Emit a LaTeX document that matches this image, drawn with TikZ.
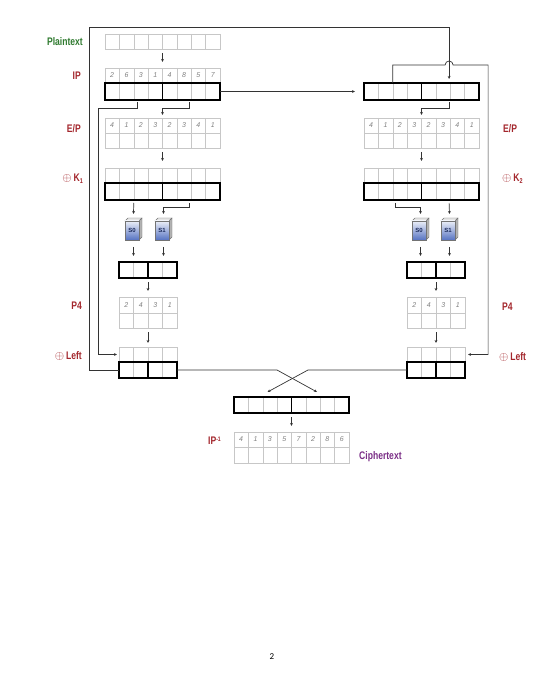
\documentclass[tikz,border=0pt]{standalone}
\usepackage{fontspec}
\setmainfont{Liberation Sans}
\newfontfamily\lblfont[FakeStretch=0.78]{Liberation Sans}
\newfontfamily\pgfont{Carlito}
\usetikzlibrary{arrows.meta,calc}
\definecolor{lblred}{HTML}{A3262C}
\definecolor{lblgreen}{HTML}{2F7A2F}
\definecolor{lblpurple}{HTML}{7A2D86}
\definecolor{sblue}{HTML}{5673C2}
\definecolor{snavy}{HTML}{1C2B5C}

\tikzset{
  cellline/.style={draw=black!22, line width=0.5pt},
  rowbox/.style={inner sep=0pt, outer sep=0pt, anchor=north west, draw=black!22, line width=0.5pt},
  boldbox/.style={inner sep=0pt, outer sep=0pt, anchor=north west, draw=black, line width=1.4pt},
  boldline/.style={draw=black, line width=1.4pt},
  numtxt/.style={font=\fontsize{7}{7}\selectfont\itshape, text=black!50, inner sep=0pt},
  conn/.style={draw=black!80, line width=0.7pt},
  arr/.style={conn, -{Stealth[length=3pt,width=2.8pt]}},
  lbl/.style={font=\lblfont\bfseries\fontsize{11}{12}\selectfont, text=lblred, inner sep=0pt},
  sboxfront/.style={inner sep=0pt, outer sep=0pt, anchor=north west, minimum width=14pt, minimum height=19pt,
    top color=sblue!12!white, bottom color=sblue, draw=black!55, line width=0.4pt,
    font=\bfseries\fontsize{6}{6}\selectfont, text=snavy},
  sboxtop/.style={fill=black!10, draw=black!55, line width=0.4pt},
  sboxside/.style={fill=black!30, draw=black!55, line width=0.4pt},
}

\newcommand\xorsym{{\fontsize{12}{12}\selectfont$\oplus$}}
\newcommand\cellrow[6]{%
  \node[rowbox, minimum width=#5pt, minimum height=#6pt] (#1) at (#2,#3) {};
  \pgfmathsetmacro\cwd{#5/#4}
  \foreach \ii in {2,...,#4} \draw[cellline] ({#2+(\ii-1)*\cwd},#3) -- ++(0,#6);
}
\newcommand\numrow[6]{%
  \pgfmathsetmacro\cwd{#4/#3}
  \foreach \lab [count=\ii] in {#6} \node[numtxt] at ({#1+(\ii-0.5)*\cwd},{#2+#5/2}) {\lab};
}
\newcommand\boldrow[6]{%
  \pgfmathsetmacro\cwd{#5/#4}
  \foreach \ii in {2,...,#4} \draw[cellline] ({#2+(\ii-1)*\cwd},#3) -- ++(0,#6);
  \node[boldbox, minimum width=#5pt, minimum height=#6pt] (#1) at (#2,#3) {};
  \draw[boldline] (#1.north) -- (#1.south);
}
\newcommand\sboxnode[4]{%
  \filldraw[sboxtop] (#2,#3) -- ++(3,-3) -- ++(14,0) -- ++(-3,3) -- cycle;
  \filldraw[sboxside] ({#2+14},#3) -- ++(3,-3) -- ++(0,19) -- ++(-3,3) -- cycle;
  \node[sboxfront] (#1) at (#2,#3) {#4};
}

\begin{document}
\begin{tikzpicture}[x=1pt,y=-1pt]
\useasboundingbox (0,0) rectangle (544,700);

% ---------------- left column (round 1) ----------------
\cellrow{pt}{105}{34}{8}{115}{15}
\cellrow{ipn}{105}{68}{8}{115}{15}
\numrow{105}{68}{8}{115}{15}{2,6,3,1,4,8,5,7}
\boldrow{ipL}{105}{83}{8}{115}{17}
\cellrow{epLn}{105}{118}{8}{115}{15}
\numrow{105}{118}{8}{115}{15}{4,1,2,3,2,3,4,1}
\cellrow{epLb}{105}{133}{8}{115}{15}
\cellrow{kL}{105}{168}{8}{115}{15}
\boldrow{xk1}{105}{183}{8}{115}{17}
\sboxnode{s0L}{125}{221}{S0}
\sboxnode{s1L}{155}{221}{S1}
\boldrow{b4L}{119}{262}{4}{58}{16}
\cellrow{p4Ln}{119}{297}{4}{58}{16}
\numrow{119}{297}{4}{58}{16}{2,4,3,1}
\cellrow{p4Lb}{119}{313}{4}{58}{15}
\cellrow{xlLn}{119}{347}{4}{58}{15}
\boldrow{xlL}{119}{362}{4}{58}{16}

% ---------------- right column (round 2) ----------------
\boldrow{ipR}{364}{83}{8}{115}{17}
\cellrow{epRn}{364}{118}{8}{115}{15}
\numrow{364}{118}{8}{115}{15}{4,1,2,3,2,3,4,1}
\cellrow{epRb}{364}{133}{8}{115}{15}
\cellrow{kR}{364}{168}{8}{115}{15}
\boldrow{xk2}{364}{183}{8}{115}{17}
\sboxnode{s0R}{412}{221}{S0}
\sboxnode{s1R}{441}{221}{S1}
\boldrow{b4R}{407}{262}{4}{58}{16}
\cellrow{p4Rn}{407}{297}{4}{58}{16}
\numrow{407}{297}{4}{58}{16}{2,4,3,1}
\cellrow{p4Rb}{407}{313}{4}{58}{15}
\cellrow{xlRn}{407}{347}{4}{58}{15}
\boldrow{xlR}{407}{362}{4}{58}{16}

% ---------------- final ----------------
\boldrow{fin}{234}{397}{8}{115}{16}
\cellrow{ipin}{234}{432}{8}{115}{15}
\numrow{234}{432}{8}{115}{15}{4,1,3,5,7,2,8,6}
\cellrow{ipib}{234}{447}{8}{115}{16}

% ---------------- labels ----------------
\node[lbl, text=lblgreen, anchor=east] (lplain) at (83,42) {Plaintext};
\node[lbl, anchor=east] (lip) at (81,76) {IP};
\node[lbl, anchor=east] (lepL) at (81,129) {E/P};
\node[lbl, anchor=east] (lk1) at (83,179) {\xorsym\,K{\fontsize{7}{7}\selectfont\raisebox{-2pt}{1}}};
\node[lbl, anchor=east] (lp4L) at (82,306) {P4};
\node[lbl, anchor=east] (lxlL) at (82,356) {\xorsym\,Left};
\node[lbl, anchor=west] (lepR) at (503,129) {E/P};
\node[lbl, anchor=west] (lk2) at (502,179) {\xorsym\,K{\fontsize{7}{7}\selectfont\raisebox{-2pt}{2}}};
\node[lbl, anchor=west] (lp4R) at (502,307) {P4};
\node[lbl, anchor=west] (lxlR) at (499,357) {\xorsym\,Left};
\node[lbl, anchor=east] (lipi) at (221,441) {IP{\fontsize{6.5}{6.5}\selectfont\raisebox{3pt}{-1}}};
\node[lbl, text=lblpurple, anchor=west] (lciph) at (359,457) {Ciphertext};
\node[font=\pgfont\fontsize{9}{9}\selectfont, inner sep=0pt] (pgno) at (272,657) {2};

% ---------------- connectors: round 1 ----------------
\draw[arr] ($(pt.south)+(0,4)$) -- ($(ipn.north)+(0,-6)$);
\coordinate (ipLl) at ($(ipL.south west)!0.28!(ipL.south east)$);
\coordinate (ipLr) at ($(ipL.south west)!0.73!(ipL.south east)$);
\draw[arr] ($(ipLl)+(0,2)$) |- ($(ipLl)+(-39,8)$) |- ($(xlLn.west)+(-2,0)$);
\draw[arr] ($(ipLr)+(0,2)$) -- ++(0,6) -| ($(epLn.north)+(0,-3)$);
\draw[arr] ($(epLb.south)+(0,4)$) -- ($(kL.north)+(0,-7)$);
\draw[arr] ($(xk1.south west)!0.25!(xk1.south east)+(0,3)$) -- ($(s0L.north)+(1.5,-7)$);
\draw[arr] ($(xk1.south west)!0.73!(xk1.south east)+(0,3)$) -- ++(0,4) -| ($(s1L.north)+(1.5,-7)$);
\draw[arr] ($(s0L.south)+(1.5,7)$) -- ++(0,9);
\draw[arr] ($(s1L.south)+(1.5,7)$) -- ++(0,9);
\draw[arr] ($(b4L.south)+(0,4)$) -- ($(p4Ln.north)+(0,-6)$);
\draw[arr] ($(p4Lb.south)+(0,4)$) -- ($(xlLn.north)+(0,-4)$);

% round 1 -> round 2
\draw[arr] (ipL.east) -- ($(ipR.west)+(-9,0)$);
\coordinate (ipRr) at ($(ipR.north west)!0.74!(ipR.north east)$);
\coordinate (ipRl) at ($(ipR.north west)!0.25!(ipR.north east)$);
\coordinate (topL) at ($(pt.north west)+(-16,-7)$);
\draw[arr] (xlL.west) -| (topL) -| ($(ipRr)+(0,-4)$);
\draw[arr] (ipRl) -- ++(0,-18) -- ($(ipRr)+(-4,-18)$) arc[start angle=180, end angle=360, radius=4] -- ++(35,0) |- ($(xlRn.east)+(3,0)$);

% ---------------- connectors: round 2 ----------------
\coordinate (ipRbr) at ($(ipR.south west)!0.74!(ipR.south east)$);
\draw[arr] ($(ipRbr)+(0,2)$) -- ++(0,6) -| ($(epRn.north)+(0,-3)$);
\draw[arr] ($(epRb.south)+(0,4)$) -- ($(kR.north)+(0,-7)$);
\draw[arr] ($(xk2.south west)!0.27!(xk2.south east)+(0,3)$) -- ++(0,4) -| ($(s0R.north)+(1.5,-7)$);
\draw[arr] ($(xk2.south west)!0.74!(xk2.south east)+(0,3)$) -- ($(s1R.north)+(1.5,-7)$);
\draw[arr] ($(s0R.south)+(1.5,7)$) -- ++(0,9);
\draw[arr] ($(s1R.south)+(1.5,7)$) -- ++(0,9);
\draw[arr] ($(b4R.south)+(0,4)$) -- ($(p4Rn.north)+(0,-6)$);
\draw[arr] ($(p4Rb.south)+(0,4)$) -- ($(xlRn.north)+(0,-4)$);

% ---------------- swap and final ----------------
\draw[arr] (xlL.east) -- ++(100,0) -- ($(fin.north)+(25.5,-5)$);
\draw[arr] (xlR.west) -- ++(-99,0) -- ($(fin.north)+(-24,-5)$);
\draw[arr] ($(fin.south)+(0,4)$) -- ($(ipin.north)+(0,-6)$);
\end{tikzpicture}
\end{document}
